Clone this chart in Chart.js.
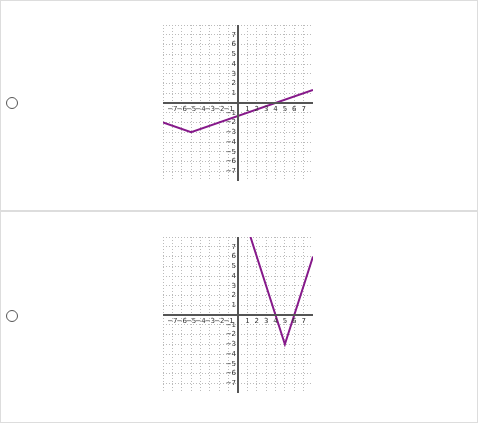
<!DOCTYPE html>
<html><head><meta charset="utf-8">
<script src="https://cdn.jsdelivr.net/npm/chart.js@4"></script>
<style>
body{margin:0;background:#fff;font-family:"DejaVu Sans",sans-serif;}
.panel{position:absolute;left:0;width:476px;border:1px solid #ddd;}
.radio{position:absolute;left:6px;width:10px;height:10px;border:1px solid #555;border-radius:50%;}
canvas{position:absolute;}
</style></head><body>
<div class="panel" style="top:0;height:210px"></div>
<div class="panel" style="top:210px;height:211px"></div>
<div class="radio" style="top:97px"></div>
<div class="radio" style="top:310px"></div>
<div style="position:absolute;left:163px;top:25px;width:150px;height:156px"><canvas id="c1"></canvas></div>
<div style="position:absolute;left:163px;top:237px;width:150px;height:156px"><canvas id="c2"></canvas></div>
<script>
const xTicks=[-7,-6,-5,-4,-3,-2,-1,1,2,3,4,5,6,7];
const yTicks=[7,6,5,4,3,2,1,-1,-2,-3,-4,-5,-6,-7];
const line1X=[-8,-5,8], line1Y=[-2,-3,1.33];
const line2X=[1.2,5,8], line2Y=[8.4,-3,6];
const axesPlugin={id:'ax',afterDatasetsDraw(ch){
 const c=ch.ctx,x=ch.scales.x,y=ch.scales.y,a=ch.chartArea;
 const x0=x.getPixelForValue(0),y0=y.getPixelForValue(0);
 c.save();c.setLineDash([]);c.strokeStyle='#555';c.lineWidth=2;
 c.beginPath();c.moveTo(a.left,y0);c.lineTo(a.right,y0);c.moveTo(x0,a.top);c.lineTo(x0,a.bottom);c.stroke();
 c.font='7px "DejaVu Sans"';c.fillStyle='#333';
 c.textAlign='center';c.textBaseline='top';
 xTicks.forEach(v=>{const t=v<0?'\u2212'+(-v):''+v;c.fillText(t,x.getPixelForValue(v),y0+3);});
 c.textAlign='right';c.textBaseline='middle';
 yTicks.forEach(v=>{const t=v<0?'\u2212'+(-v):''+v;c.fillText(t,x0-2,y.getPixelForValue(v));});
 c.restore();}};
function mk(id,xs,ys){
 new Chart(document.getElementById(id),{type:'scatter',
 data:{datasets:[{data:xs.map((v,i)=>({x:v,y:ys[i]})),showLine:true,borderColor:'#86198a',borderWidth:2,pointRadius:0,clip:0}]},
 options:{responsive:true,maintainAspectRatio:false,animation:false,layout:{padding:0},
 plugins:{legend:{display:false},tooltip:{enabled:false}},
 scales:{x:{type:'linear',min:-8,max:8,ticks:{display:false,stepSize:1},border:{display:false,dash:[1,2]},grid:{drawTicks:false,color:'#bbb',lineWidth:1}},
 y:{type:'linear',min:-8,max:8,ticks:{display:false,stepSize:1},border:{display:false,dash:[1,2]},grid:{drawTicks:false,color:'#bbb',lineWidth:1}}}},
 plugins:[axesPlugin]});
}
mk('c1',line1X,line1Y);mk('c2',line2X,line2Y);
</script></body></html>
